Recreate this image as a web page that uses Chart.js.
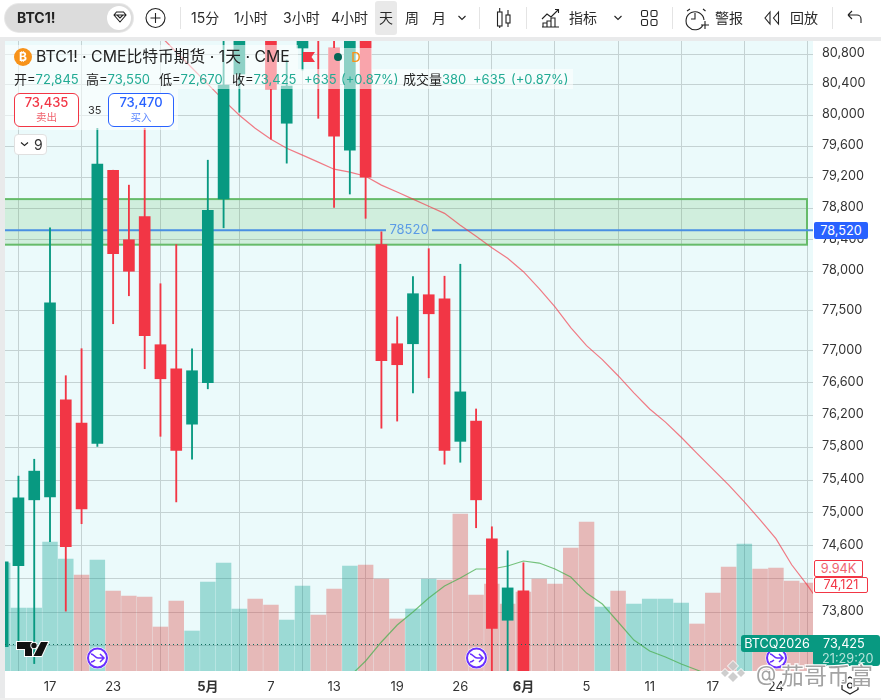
<!DOCTYPE html>
<html lang="zh">
<head>
<meta charset="utf-8">
<title>BTC1!</title>
<script src="https://cdn.jsdelivr.net/npm/chart.js@4"></script>
<style>
html,body{margin:0;padding:0;background:#fff;width:881px;height:700px;overflow:hidden;font-family:Inter,"Noto Sans CJK SC",sans-serif;color:#222}
#stage{position:relative;width:881px;height:700px;overflow:hidden}
#chart{position:absolute;left:0;top:0;width:881px;height:700px}
.a{position:absolute;white-space:nowrap}
.t{position:absolute;white-space:nowrap;font-size:14px;line-height:20px;top:8px;color:#2a2a2a}
.sep{position:absolute;top:7px;width:1px;height:22px;background:#e4e4e4}
.veil{position:absolute;background:rgba(255,255,255,.55)}
.r{position:absolute;top:70px;font-size:13px;line-height:18px;white-space:nowrap;color:#222}
.g{color:#22ab94}
svg{position:absolute;overflow:visible}
</style>
</head>
<body>
<div id="stage">
<div class="a" style="left:0;top:37px;width:881px;height:4px;background:#e9eaeb"></div>
<div class="a" style="left:0;top:37px;width:5px;height:663px;background:#e9eaeb"></div>
<div class="a" style="left:0;top:698px;width:881px;height:2px;background:#eeeeee"></div>
<canvas id="chart" width="881" height="700"></canvas>

<!-- toolbar -->
<div class="a" style="left:5px;top:4px;width:128px;height:28px;border-radius:14px;background:#dcdcdc;box-shadow:0 0 0 1px #e8e8e8"></div>
<div class="a" style="left:17px;top:8px;font-size:14px;line-height:20px;font-weight:700;color:#222">BTC1!</div>
<div class="a" style="left:107px;top:6px;width:24px;height:24px;border-radius:12px;background:#fff"></div>
<svg style="left:0;top:0" width="881" height="36" fill="none" stroke="#222" stroke-width="1.1">
  <path d="M114 15l2.5-3h7l2.5 3-6 7z M114 15h12 M117 15l3 3 3-3" />
  <circle cx="155.500" cy="18" r="9.500"/><path d="M155.500 13v10M150.500 18h10"/>
  <path d="M458.500 16l3.500 3.500 3.500-3.500"/>
  <path d="M614.500 16l3.500 3.500 3.500-3.500"/>
  <rect x="497.500" y="12" width="4.500" height="14"/><path d="M499.700 8v4M499.700 26v2"/>
  <rect x="506" y="15" width="4" height="8"/><path d="M508 10v5M508 23v4"/>
  <path d="M542 19l5-5 4 3 7-7M555 9.500h3.500V13"/><path d="M543 27v-4h4v4M547 27v-6h4v6M551 27v-9h4v9M542 27h17"/>
  <rect x="641.500" y="10.500" width="6" height="6" rx="1.500"/><rect x="651" y="10.500" width="6" height="6" rx="1.500"/><rect x="641.500" y="19.500" width="6" height="6" rx="1.500"/><rect x="651" y="19.500" width="6" height="6" rx="1.500"/>
  <path d="M703 25a9 9 0 1 1 1-5"/><path d="M695 13v6h-4"/><path d="M687 11l3-2M703 9l2.500 2M701 25h8M705 21v8"/>
  <path d="M770 12l-5 6 5 6zM778.500 12l-5 6 5 6z"/>
  <path d="M848 15h9a4 4 0 0 1 4 4v4M848 15l4-4M848 15l4 4"/>
</svg>
<span class="t" style="left:191px">15分</span>
<span class="t" style="left:234px">1小时</span>
<span class="t" style="left:283px">3小时</span>
<span class="t" style="left:331px">4小时</span>
<div class="a" style="left:375px;top:1px;width:22px;height:34px;border-radius:3px;background:#e9e9e9"></div>
<span class="t" style="left:379px">天</span>
<span class="t" style="left:405px">周</span>
<span class="t" style="left:432px">月</span>
<span class="t" style="left:569px">指标</span>
<span class="t" style="left:715px">警报</span>
<span class="t" style="left:790px">回放</span>
<div class="sep" style="left:180px"></div><div class="sep" style="left:479px"></div><div class="sep" style="left:526px"></div><div class="sep" style="left:672px"></div><div class="sep" style="left:832px"></div>

<!-- legend veils -->
<div class="veil" style="left:5px;top:45px;width:293px;height:24px"></div>
<div class="veil" style="left:328px;top:48px;width:44px;height:21px"></div>
<div class="veil" style="left:5px;top:69px;width:568px;height:20px"></div>
<div class="veil" style="left:5px;top:89px;width:173px;height:41px"></div>

<svg style="left:0;top:0" width="881" height="140">
  <circle cx="23" cy="57" r="9" fill="#f7931a"/>
  <text x="23" y="61" font-size="12" font-weight="700" fill="#fff" text-anchor="middle" font-family="Inter">₿</text>
  <path d="M303 52h12l-3.500 5 3.500 5h-12z" fill="#f23645"/>
  <circle cx="338" cy="57" r="4" fill="#056656"/>
  <text x="356" y="62" font-size="13" fill="#f7931a" text-anchor="middle" font-family="Inter" font-weight="500">D</text>
</svg>
<div class="a" style="left:36px;top:47px;font-size:15.8px;line-height:20px;color:#222">BTC1! · CME比特币期货 · 1天 · CME</div>
<span class="r" style="left:14px">开=<span class="g">72,845</span></span>
<span class="r" style="left:86px">高=<span class="g">73,550</span></span>
<span class="r" style="left:159px">低=<span class="g">72,670</span></span>
<span class="r" style="left:232px">收=<span class="g">73,425</span></span>
<span class="r g" style="left:304px">+635</span>
<span class="r g" style="left:341px">(+0.87%)</span>
<span class="r" style="left:403px">成交量<span class="g">380</span></span>
<span class="r g" style="left:473px">+635</span>
<span class="r g" style="left:511px">(+0.87%)</span>

<div class="a" style="left:14px;top:93px;width:63px;height:32px;border:1px solid #f23645;border-radius:6px;background:#fff;text-align:center">
  <div style="font-size:13px;line-height:17px;font-weight:500;color:#f23645">73,435</div>
  <div style="font-size:10.500px;line-height:13px;color:#f0646f">卖出</div>
</div>
<div class="a" style="left:108px;top:93px;width:64px;height:32px;border:1px solid #2962ff;border-radius:6px;background:#fff;text-align:center">
  <div style="font-size:13px;line-height:17px;font-weight:500;color:#2962ff">73,470</div>
  <div style="font-size:10.500px;line-height:13px;color:#5b86ff">买入</div>
</div>
<div class="a" style="left:88px;top:104px;font-size:11px;line-height:13px;color:#333">35</div>
<div class="a" style="left:14px;top:134px;width:31px;height:19px;border:1px solid #e0e0e0;border-radius:4px;background:#fff"></div>
<svg style="left:0;top:0" width="60" height="160" fill="none" stroke="#222" stroke-width="1.100"><path d="M21 142.500l3.500 3 3.500-3"/></svg>
<div class="a" style="left:34px;top:136px;font-size:14px;line-height:18px;color:#333">9</div>

<!-- logo + event marks -->
<svg style="left:0;top:0" width="881" height="700">
  <g fill="#111" stroke="#fff" stroke-width="2" paint-order="stroke">
    <path d="M17 642h15v14h-7v-7h-8z"/><circle cx="34" cy="645.500" r="2.700"/><path d="M41 642h7l-6.500 14h-8z"/>
  </g>
  <g><circle cx="97.500" cy="658" r="10" fill="#fff" stroke="#fff" stroke-width="2"/><circle cx="97.500" cy="658" r="9.500" fill="#fff" stroke="#6a2fff" stroke-width="2"/><path d="M91 654c3 0 4 4 7 4h6M100 654l4 4-4 4M91 662c2 0 3-1 4-2" fill="none" stroke="#6a2fff" stroke-width="1.500"/></g>
  <g><circle cx="476.500" cy="658" r="10" fill="#fff" stroke="#fff" stroke-width="2"/><circle cx="476.500" cy="658" r="9.500" fill="#fff" stroke="#6a2fff" stroke-width="2"/><path d="M470 654c3 0 4 4 7 4h6M479 654l4 4-4 4M470 662c2 0 3-1 4-2" fill="none" stroke="#6a2fff" stroke-width="1.500"/></g>
  <g><circle cx="776.500" cy="658" r="10" fill="#fff" stroke="#fff" stroke-width="2"/><circle cx="776.500" cy="658" r="9.500" fill="#fff" stroke="#6a2fff" stroke-width="2"/><path d="M770 654c3 0 4 4 7 4h6M779 654l4 4-4 4M770 662c2 0 3-1 4-2" fill="none" stroke="#6a2fff" stroke-width="1.500"/></g>
</svg>

<!-- price tags -->
<div class="a" style="left:814px;top:222px;width:54px;height:17px;border-radius:2px;background:#2962ff;color:#fff;font-size:12.7px;line-height:17px;text-align:center">78,520</div>
<div class="a" style="left:814px;top:560px;width:47px;height:15px;border:1px solid #f23645;border-radius:2px;background:#fff;color:#f0646f;font-size:12.7px;line-height:15px;text-align:center">9.94K</div>
<div class="a" style="left:814px;top:577px;width:52px;height:14px;border:1px solid #f23645;border-radius:2px;background:#fff;color:#f23645;font-size:12.7px;line-height:14px;text-align:center">74,121</div>
<div class="a" style="left:741px;top:635px;width:72px;height:17px;border-radius:3px 0 0 3px;background:#089981;color:#fff;font-size:12.7px;line-height:17px;text-align:center">BTCQ2026</div>
<div class="a" style="left:813px;top:635px;width:67px;height:31px;border-radius:0 3px 3px 3px;background:#089981;color:#fff;font-size:12.7px;line-height:15px;text-align:left">
  <div style="margin-left:10px;margin-top:1px">73,425</div>
  <div style="margin-left:9px;color:#b5e3da">21:29:20</div>
</div>

<!-- watermark + settings -->
<svg style="left:0;top:0" width="881" height="700">
  <path d="M850 677l8 4.500v8l-8 4.500-8-4.500v-8z" fill="none" stroke="#222" stroke-width="1.200"/>
  <circle cx="850" cy="685.500" r="2.500" fill="none" stroke="#222" stroke-width="1.200"/>
  <g fill="#c9c9c9" stroke="#fff" stroke-width="1.500" paint-order="stroke" opacity=".9">
    <path d="M733 661l5 5-5 5-5-5z"/><path d="M725 669l4 4-4 4-4-4z"/><path d="M741 669l4 4-4 4-4-4z"/><path d="M733 672l5 5-5 5-5-5z"/>
  </g>
  <text x="756" y="681" font-size="21" fill="#a3a3a3" stroke="#fff" stroke-width="2.500" paint-order="stroke" font-family="Inter,'Noto Sans CJK SC'">@</text>
  <text x="781" y="684" font-size="23" fill="#a3a3a3" stroke="#fff" stroke-width="2.500" paint-order="stroke" font-family="'Noto Sans CJK SC'">茄哥币富</text>
</svg>
</div>

<script>
const FONT = 'Inter, "Noto Sans CJK SC", sans-serif';

/* daily candles, bar index 0..33 (several run above or below the visible price window) */
const opens  = [73388,74358,75158,75194,76388,76100,75850,79290,78400,78695,77075,76775,76087,76600,78921,80538,81300,81100,79897,80879,81400,80879,79548,81100,78337,77087,77087,77703,77652,75875,76125,74685,73703,74055];
const highs  = [74406,75448,75655,78552,76688,77025,79832,79290,79098,79832,77842,78337,77025,79419,81100,81200,81450,81300,80721,81100,81500,81000,81200,81300,78501,77425,77931,78286,77937,78089,76275,74830,74539,74394];
const lows   = [73388,73436,73186,74648,73812,74867,75812,77338,77690,76775,75937,75133,75655,76525,78552,80040,81000,79690,79381,80590,79961,78813,78984,78673,76037,76125,76475,76662,75594,75618,74818,73000,72950,72670];
const closes = [74406,75182,75509,77601,74588,75048,79368,78222,78000,77188,76650,75764,76750,78775,80394,81050,81080,80342,80381,80990,81100,79729,81050,79200,76875,76825,77716,77463,75764,76487,75158,73606,74091,72845];

/* volume in thousands, bar index 0..51; 1 = up colour, 0 = down colour */
const volumes = [12.2,7.12,7.12,14.58,12.66,10.85,12.54,9.04,8.48,8.36,4.97,7.91,4.52,10.06,12.2,7.01,8.14,7.46,5.76,9.61,6.33,9.27,11.87,11.98,10.4,5.88,7.01,10.4,10.28,17.74,8.59,9.83,7.57,8.93,10.4,9.83,13.9,16.84,7.23,9.04,7.57,8.14,8.14,7.68,5.31,8.81,11.75,14.35,11.53,11.64,10.17,9.94];
const volumeUp = [1,1,1,1,1,0,1,0,0,0,0,0,1,1,1,1,0,0,1,1,0,0,1,0,0,0,1,1,0,0,0,0,0,0,0,0,0,0,1,0,1,1,1,1,0,0,0,1,0,0,0,0];

/* price moving average, starts at bar 10 */
const priceMaStart = 10;
const priceMa = [81036,80826,80617,80407,80197,80000,79832,79690,79574,79484,79394,79303,79265,79213,79098,79009,78919,78828,78736,78584,78444,78298,78165,77994,77779,77551,77288,77063,76888,76688,76475,76275,76112,75925,75727,75533,75340,75133,74915,74685,74370,74121,73850];

/* volume moving average, starts at bar 22 */
const volMaStart = 22;
const volMa = [-0.6,1.13,3.28,5.2,6.67,8.25,9.6,10.51,11.53,11.53,11.87,12.43,12.2,11.53,10.62,8.81,7.57,5.54,3.5,2.26,1.58,0.79,0.11,-0.57];

/* axis ticks */
const xTickIndex  = [3,7,13,17,21,25,29,33,37,41,45,49];
const xTickLabels = ['17','23','5月','7','13','19','26','6月','5','11','17','24'];
const priceTicks  = [80800,80400,80000,79600,79200,78800,78400,78000,77500,77000,76600,76200,75800,75400,75000,74600,74200,73800,73400];

/* levels */
const zoneHigh = 78919, zoneLow = 78337, zoneEndBar = 50.97;
const levelPrice = 78520, levelLabel = '78520';
const lastClose = 73425;

const UP='#089981', DOWN='#f23645';
const isUp = i => closes[i] >= opens[i];

const overlay = {
  id:'overlay',
  beforeDraw(c){
    const {ctx,chartArea:a}=c;
    ctx.save();ctx.fillStyle='#ebfafb';ctx.fillRect(a.left,a.top,a.right-a.left,a.bottom-a.top);ctx.restore();
  },
  beforeDatasetsDraw(c){
    const {ctx,chartArea:a,scales:{x,y}}=c;
    ctx.save();
    ctx.beginPath();ctx.rect(a.left,a.top,a.right-a.left,a.bottom-a.top);ctx.clip();
    const top=y.getPixelForValue(zoneHigh),bot=y.getPixelForValue(zoneLow),end=x.getPixelForValue(zoneEndBar);
    ctx.fillStyle='rgba(76,175,80,.17)';ctx.fillRect(a.left-4,top,end-a.left+4,bot-top);
    ctx.strokeStyle='#66bb6a';ctx.lineWidth=2;ctx.strokeRect(a.left-4,top,end-a.left+4,bot-top);
    const ly=y.getPixelForValue(levelPrice);
    ctx.font='13px '+FONT;
    const gapC=409;
    ctx.strokeStyle='#4a90e2';ctx.lineWidth=2;
    ctx.beginPath();ctx.moveTo(a.left,ly);ctx.lineTo(gapC-23,ly);ctx.moveTo(gapC+23,ly);ctx.lineTo(a.right,ly);ctx.stroke();
    ctx.fillStyle='#5b9be6';ctx.textAlign='center';ctx.textBaseline='middle';
    ctx.fillText(levelLabel,gapC,ly);
    ctx.restore();
  },
  afterDatasetsDraw(c){
    const {ctx,chartArea:a,scales:{y}}=c;
    const py=Math.round(y.getPixelForValue(lastClose))+.5;
    ctx.save();ctx.strokeStyle='#0b6b5c';ctx.lineWidth=1;ctx.setLineDash([1,3]);
    ctx.beginPath();ctx.moveTo(a.left,py);ctx.lineTo(a.right,py);ctx.stroke();ctx.restore();
  }
};

new Chart(document.getElementById('chart'),{
  type:'bar',
  data:{datasets:[
    {label:'Volume',yAxisID:'v',order:5,barThickness:14.8,grouped:false,
     data:volumes.map((v,i)=>({x:i,y:v})),
     backgroundColor:volumeUp.map(u=>u?'rgba(9,157,143,.35)':'rgba(220,63,60,.35)')},
    {type:'line',label:'MA price',yAxisID:'y',order:4,borderColor:'rgba(242,54,69,.65)',borderWidth:1.2,pointRadius:0,tension:0,
     data:priceMa.map((v,i)=>({x:i+priceMaStart,y:v}))},
    {type:'line',label:'MA volume',yAxisID:'v',order:4,borderColor:'rgba(76,175,80,.75)',borderWidth:1.2,pointRadius:0,tension:0,
     data:volMa.map((v,i)=>({x:i+volMaStart,y:v}))},
    {label:'Wick',yAxisID:'y',order:3,barThickness:1.2,grouped:false,
     data:highs.map((h,i)=>({x:i,y:[lows[i],h]})),
     backgroundColor:highs.map((h,i)=>isUp(i)?UP:DOWN)},
    {label:'Body',yAxisID:'y',order:2,barThickness:11,grouped:false,
     data:opens.map((o,i)=>({x:i,y:[o,closes[i]]})),
     backgroundColor:opens.map((o,i)=>isUp(i)?UP:DOWN)}
  ]},
  options:{
    responsive:false,animation:false,devicePixelRatio:1,
    layout:{padding:{left:5,top:41,right:0,bottom:0}},
    plugins:{legend:{display:false},tooltip:{enabled:false}},
    scales:{
      x:{type:'linear',min:0.148,max:51.35,offset:false,
         border:{display:false},
         grid:{color:'#c4d2d3',lineWidth:1,drawTicks:false},
         afterBuildTicks(s){s.ticks=xTickIndex.map(v=>({value:v}));},
         afterFit(s){s.height=29;},
         ticks:{autoSkip:false,maxRotation:0,padding:8,color:'#333',
           font:ctx=>{const l=ctx.tick?xTickLabels[xTickIndex.indexOf(ctx.tick.value)]:'';return {family:FONT,size:13,weight:(l&&l.includes('月'))?'700':'400'};},
           callback:v=>xTickLabels[xTickIndex.indexOf(v)]}},
      y:{type:'logarithmic',position:'right',min:73098,max:80971,
         border:{display:false},
         grid:{color:'#c4d2d3',lineWidth:1,drawTicks:false},
         afterBuildTicks(s){s.ticks=priceTicks.map(v=>({value:v}));},
         afterFit(s){s.width=68;},
         ticks:{autoSkip:false,padding:9,color:'#333',labelOffset:-1,font:{family:FONT,size:12.7},
           callback:v=>v===73400?'':Number(v).toLocaleString('en-US')}},
      v:{type:'linear',display:false,min:0,max:71.2,grid:{display:false}}
    }
  },
  plugins:[overlay]
});
</script>
</body>
</html>
